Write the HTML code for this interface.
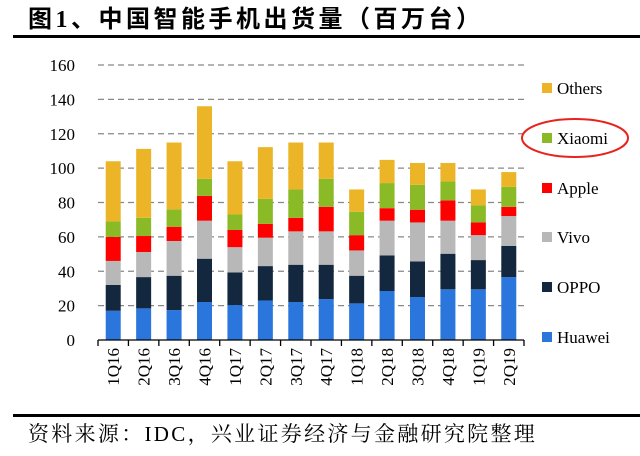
<!DOCTYPE html>
<html><head><meta charset="utf-8"><style>
body{margin:0;background:#fff;width:640px;height:456px;overflow:hidden}
svg{display:block}
.t{font-family:"Liberation Serif","Noto Serif CJK SC",serif}
</style></head><body>
<svg id="c" width="640" height="456">
<text x="28" y="27" font-family="'Liberation Serif','Noto Sans CJK SC',sans-serif" font-weight="bold" font-size="24" letter-spacing="3.5" fill="#000">图1、中国智能手机出货量（百万台）</text>
<rect x="13" y="35" width="627" height="3" fill="#000"/>
<rect x="13" y="414" width="627" height="3" fill="#000"/>
<text x="28" y="441" font-family="'Liberation Serif','Noto Serif CJK SC',serif" font-size="21" letter-spacing="2.3" fill="#000">资料来源：IDC，兴业证券经济与金融研究院整理</text>
<g id="grid"></g><g id="bars"></g><g id="axis"></g><g id="legend"></g>
<ellipse cx="575" cy="138" rx="53" ry="19" fill="none" stroke="#e8231c" stroke-width="2"/>
</svg>
<script>
const categories=["1Q16","2Q16","3Q16","4Q16","1Q17","2Q17","3Q17","4Q17","1Q18","2Q18","3Q18","4Q18","1Q19","2Q19"];
const huawei=[17,18.4,17.4,22.1,20.3,23,22.1,23.8,21.3,28.5,25,29.5,29.5,36.6];
const oppo=[15,18.2,20,25.2,19,20,21.7,20,16.1,20.7,20.7,20.7,17,18.1];
const vivo=[14,14.6,20.2,22.1,14.7,16.5,19.4,19.4,14.7,20.2,22.7,19.2,14.5,17.4];
const apple=[14,9.3,8.3,14.5,10,8.1,7.9,14.3,8.9,7.3,7.4,11.8,7.4,5.4];
const xiaomi=[9,10.6,10.1,9.9,9,14.5,16.5,16.3,13.6,14.6,14.5,11,9.9,11.6];
const others=[35,40.1,38.9,42.2,31,30.1,27.3,21.1,13,13.5,12.7,10.8,9.3,8.6];
const yTicks=[0,20,40,60,80,100,120,140,160];
const seriesNames=["Huawei","OPPO","Vivo","Apple","Xiaomi","Others"];
const seriesData=[huawei,oppo,vivo,apple,xiaomi,others];
const colors=["#2a76dc","#13273f","#b8b8b8","#ff0000","#8aba25","#ecb527"];
const NS="http://www.w3.org/2000/svg";
const x0=98,x1=524,y0=340,yMax=160,pxH=275;
const y=v=>y0-v/yMax*pxH;
const bw=(x1-x0)/categories.length;
const xc=i=>x0+bw*(i+0.5);
function mk(tag,attrs,parent){const e=document.createElementNS(NS,tag);for(const k in attrs)e.setAttribute(k,attrs[k]);document.getElementById(parent).appendChild(e);return e;}
yTicks.forEach(t=>{
  if(t>0){const l=mk("line",{x1:x0,x2:x1,y1:y(t),y2:y(t),stroke:"#888","stroke-width":1.3,"stroke-dasharray":"6,4"},"grid");
  
  }
  const tx=mk("text",{x:75,y:y(t)+6,"text-anchor":"end","font-size":17,class:"t"},"axis");
  tx.textContent=t;
  
  
});
categories.forEach((c,i)=>{
  let cum=0;
  seriesData.forEach((s,k)=>{
    const v=s[i];
    const r=mk("rect",{x:xc(i)-7.5,width:15,y:y(cum+v),height:y(cum)-y(cum+v),fill:colors[k]},"bars");
    
    
    cum+=v;
  });
  const tk=mk("line",{x1:x0+bw*i,x2:x0+bw*i,y1:y0,y2:y0+6,stroke:"#000","stroke-width":1.3},"axis");
  
  
  const lb=mk("text",{x:0,y:0,"text-anchor":"end","font-size":17,class:"t",transform:`translate(${xc(i)+6},348) rotate(-90)`},"axis");
  lb.textContent=c;
  
  
});
const ax=mk("line",{x1:x0,x2:x1,y1:y0,y2:y0,stroke:"#000","stroke-width":1.3},"axis");


const te=mk("line",{x1:x1,x2:x1,y1:y0,y2:y0+6,stroke:"#000","stroke-width":1.3},"axis");


const legY=[337,287,237,188,138,88];
seriesNames.forEach((n,k)=>{
  const g=mk("g",{},"legend");
  
  
  const sq=document.createElementNS(NS,"rect");
  sq.setAttribute("x",542);sq.setAttribute("y",legY[k]-5);sq.setAttribute("width",10);sq.setAttribute("height",10);sq.setAttribute("fill",colors[k]);
  
  
  g.appendChild(sq);
  const t=document.createElementNS(NS,"text");
  t.setAttribute("x",557);t.setAttribute("y",legY[k]+6);t.setAttribute("font-size",17);t.setAttribute("class","t");
  t.textContent=n;
  
  
  g.appendChild(t);
});
</script>
</body></html>
